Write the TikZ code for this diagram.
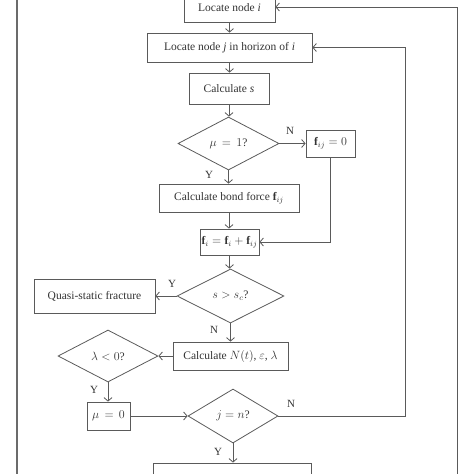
\documentclass[tikz,border=0pt]{standalone}
\usepackage{fontspec}
\setmainfont{Liberation Serif}
\usetikzlibrary{arrows.meta,shapes.geometric}
\definecolor{linegray}{HTML}{5A5A5A}
\definecolor{txtgray}{HTML}{333333}
\begin{document}
\begin{tikzpicture}[x=1pt,y=-1pt,
  every node/.style={text=txtgray,font=\fontsize{11.5}{13}\selectfont},
  box/.style={draw=linegray,line width=0.8pt,inner sep=0pt,rectangle},
  dia/.style={draw=linegray,line width=0.8pt,inner sep=0pt,diamond},
  lbl/.style={inner sep=0pt,font=\fontsize{11}{13}\selectfont},
  conn/.style={draw=linegray,line width=0.8pt},
  arr/.style={conn,-{Straight Barb[length=3.5pt,width=8pt,line width=0.8pt]}}]
\useasboundingbox (0,0) rectangle (474,474);
\clip (0,0) rectangle (474,474);
% nodes
\node[box,minimum width=91pt,minimum height=28pt] (locI) at (229.5,8) {Locate node \textit{i}};
\node[box,minimum width=165pt,minimum height=29pt] (locJ) at (229.5,47.5) {Locate node \textit{j} in horizon of \textit{i}};
\node[box,minimum width=80pt,minimum height=31pt] (calcS) at (229,88.5) {Calculate \textit{s}};
\node[dia,minimum width=101pt,minimum height=53pt] (d1) at (228.5,143.5) {$\mu\,=\,1$?};
\node[box,minimum width=49pt,minimum height=27pt] (f0) at (330.5,143.5) {$\mathbf{f}_{ij}=0$};
\node[box,minimum width=140pt,minimum height=28pt] (bond) at (229,198) {Calculate bond force $\mathbf{f}_{ij}$};
\node[box,minimum width=59pt,minimum height=26pt] (fi) at (229.5,242) {$\mathbf{f}_i=\mathbf{f}_i+\mathbf{f}_{ij}$};
\node[dia,minimum width=107pt,minimum height=54pt] (d2) at (230.5,296) {$s>s_c$?};
\node[box,minimum width=121pt,minimum height=34pt] (quasi) at (94.5,296) {Quasi-static fracture};
\node[box,minimum width=115pt,minimum height=28pt] (calcN) at (230.5,356) {Calculate $N(t)$, $\varepsilon$, $\lambda$};
\node[dia,minimum width=100pt,minimum height=52pt] (d3) at (108,356) {$\lambda<0$?};
\node[box,minimum width=43pt,minimum height=28pt] (mu0) at (108.5,416) {$\mu\,=\,0$};
\node[dia,minimum width=90pt,minimum height=54pt] (d4) at (233,416) {$j=n$?};
\node[box,minimum width=158pt,minimum height=34pt] (last) at (232,480) {Calculate acceleration of node \textit{i}};
% labels
\node[lbl] (n1) at (290,131) {N};
\node[lbl] (y1) at (209,175) {Y};
\node[lbl] (y2) at (172,284) {Y};
\node[lbl] (n2) at (214,330) {N};
\node[lbl] (y3) at (94,390) {Y};
\node[lbl] (n3) at (291,404) {N};
\node[lbl] (y4) at (218,452) {Y};
% helper coordinates
\coordinate (rJ) at (405,416);
\coordinate (bR) at (457,480);
\coordinate (tL) at (17,-5);
\coordinate (bL) at (17,480);
% connectors
\draw[arr] (locI.south) -- (locI.south |- locJ.north);
\draw[arr] (locJ.south) -- (locJ.south |- calcS.north);
\draw[arr] (calcS.south) -- (calcS.south |- d1.north);
\draw[arr] (d1.east) -- (f0.west);
\draw[arr] (d1.south) -- (d1.south |- bond.north);
\draw[arr] (bond.south) -- (bond.south |- fi.north);
\draw[arr] (f0.south) |- (fi.east);
\draw[arr] (fi.south) -- (fi.south |- d2.north);
\draw[arr] (d2.west) -- (quasi.east);
\draw[arr] (d2.south) -- (d2.south |- calcN.north);
\draw[arr] (calcN.west) -- (d3.east);
\draw[arr] (d3.south) -- (d3.south |- mu0.north);
\draw[arr] (mu0.east) -- (d4.west);
\draw[arr] (d4.east) -- (rJ) |- (locJ.east);
\draw[arr] (d4.south) -- (d4.south |- last.north);
\draw[arr] (bR) |- ([yshift=1pt]locI.east);
\draw[draw=linegray!90,line width=1.3pt] (tL) -- (bL);
\end{tikzpicture}
\end{document}
